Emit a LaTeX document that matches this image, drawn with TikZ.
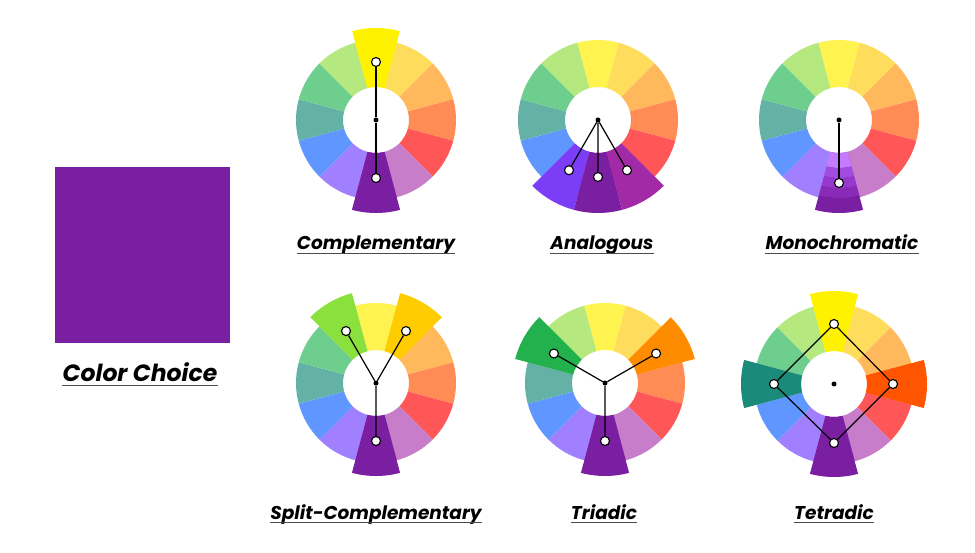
\documentclass[tikz,border=0pt]{standalone}
\usepackage{fontspec}
\setmainfont{Poppins}

\definecolor{wYellow}{HTML}{FFF350}
\definecolor{wAmber}{HTML}{FFDD5C}
\definecolor{wApricot}{HTML}{FFB85C}
\definecolor{wCoral}{HTML}{FF8C55}
\definecolor{wRed}{HTML}{FF5757}
\definecolor{wOrchid}{HTML}{C77DC9}
\definecolor{wPurple}{HTML}{7B1FA2}
\definecolor{wLavender}{HTML}{A180FF}
\definecolor{wBlue}{HTML}{5F96FF}
\definecolor{wTeal}{HTML}{64B2A6}
\definecolor{wGreen}{HTML}{6ECE8E}
\definecolor{wLime}{HTML}{B5E87E}
\definecolor{hYellow}{HTML}{FFF200}
\definecolor{hViolet}{HTML}{7C3DF6}
\definecolor{hMagenta}{HTML}{A22AA6}
\definecolor{hChartreuse}{HTML}{8AE03C}
\definecolor{hGold}{HTML}{FFCC00}
\definecolor{hGreen}{HTML}{22B14C}
\definecolor{hOrange}{HTML}{FF8C00}
\definecolor{hVermilion}{HTML}{FF5500}
\definecolor{hTeal}{HTML}{1A8A7A}
\definecolor{mOne}{HTML}{C57BFF}
\definecolor{mTwo}{HTML}{A24BE0}
\definecolor{mThree}{HTML}{9638CC}
\definecolor{mFour}{HTML}{8A2BB8}

% colour, angle, inner radius, outer radius
\newcommand\colsector[4]{%
	\fill[#1] (#2-15:#3) arc[start angle=#2-15, end angle=#2+15, radius=#3]
		-- (#2+15:#4) arc[start angle=#2+15, end angle=#2-15, radius=#4] -- cycle;}

\begin{document}
\begin{tikzpicture}[
	x = 1pt, y = 1pt,
	colwheel/.pic = {
		\foreach \ang/\col in {90/wYellow, 60/wAmber, 30/wApricot, 0/wCoral,
			-30/wRed, -60/wOrchid, -90/wPurple, -120/wLavender,
			-150/wBlue, 180/wTeal, 150/wGreen, 120/wLime}
			{\colsector{\col}{\ang}{33pt}{80pt}}
	},
	hub/.style = {circle, fill=black, inner sep=0pt, minimum size=5pt},
	knob/.style = {circle, draw=black, fill=white, line width=1.1pt,
		inner sep=0pt, minimum size=9pt},
	spoke/.style = {line width=1.2pt},
	title/.style = {font=\fontsize{18.5}{22}\selectfont\bfseries\itshape,
		inner sep=0pt, anchor=base},
	uline/.style = {line width=1.5pt, black!70}]

	\useasboundingbox (0,0) rectangle (975,552);

	% colour choice
	\node[fill=wPurple, minimum width=175pt, minimum height=176pt, inner sep=0pt]
		(choice) at (142.5,297) {};
	\node[title, font=\fontsize{23.5}{28}\selectfont\bfseries\itshape] (choice-lbl) at (140,170) {Color Choice};

	% complementary
	\begin{scope}[shift={(376,432)}]
		\pic {colwheel};
		\colsector{hYellow}{90}{33pt}{92pt}
		\colsector{wPurple}{-90}{33pt}{93pt}
		\node[hub] (comp) at (0,0) {};
		\node[knob] (comp-a) at (90:58pt) {};
		\node[knob] (comp-b) at (-90:58pt) {};
	\end{scope}
	\draw[spoke] (comp) -- (comp-a) (comp) -- (comp-b);
	\node[title] (comp-lbl) at (376,302) {Complementary};

	% analogous
	\begin{scope}[shift={(598,432)}]
		\pic {colwheel};
		\colsector{hViolet}{-120}{33pt}{93pt}
		\colsector{wPurple}{-90}{33pt}{93pt}
		\colsector{hMagenta}{-60}{33pt}{93pt}
		\node[hub] (anal) at (0,0) {};
		\node[knob] (anal-a) at (-120:58pt) {};
		\node[knob] (anal-b) at (-90:57pt) {};
		\node[knob] (anal-c) at (-60:58pt) {};
	\end{scope}
	\draw[spoke] (anal) -- (anal-a) (anal) -- (anal-b) (anal) -- (anal-c);
	\node[title] (anal-lbl) at (602,302) {Analogous};

	% monochromatic
	\begin{scope}[shift={(839,432)}]
		\pic {colwheel};
		\colsector{mOne}{-90}{33pt}{48pt}
		\colsector{mTwo}{-90}{48pt}{58pt}
		\colsector{mThree}{-90}{58pt}{68pt}
		\colsector{mFour}{-90}{68pt}{78pt}
		\colsector{wPurple}{-90}{78pt}{93pt}
		\node[hub] (mono) at (0,0) {};
		\node[knob] (mono-a) at (-90:63pt) {};
	\end{scope}
	\draw[spoke] (mono) -- (mono-a);
	\node[title] (mono-lbl) at (842,302) {Monochromatic};

	% split-complementary
	\begin{scope}[shift={(376,169)}]
		\pic {colwheel};
		\colsector{hChartreuse}{120}{33pt}{93pt}
		\colsector{hGold}{60}{33pt}{93pt}
		\colsector{wPurple}{-90}{33pt}{93pt}
		\node[hub] (split) at (0,0) {};
		\node[knob] (split-a) at (120:60pt) {};
		\node[knob] (split-b) at (60:60pt) {};
		\node[knob] (split-c) at (-90:58pt) {};
	\end{scope}
	\draw[spoke] (split) -- (split-a) (split) -- (split-b) (split) -- (split-c);
	\node[title] (split-lbl) at (376,33) {Split-Complementary};

	% triadic
	\begin{scope}[shift={(605,169)}]
		\pic {colwheel};
		\colsector{hGreen}{150}{33pt}{93pt}
		\colsector{hOrange}{30}{33pt}{93pt}
		\colsector{wPurple}{-90}{33pt}{93pt}
		\node[hub] (tri) at (0,0) {};
		\node[knob] (tri-a) at (150:59pt) {};
		\node[knob] (tri-b) at (30:59pt) {};
		\node[knob] (tri-c) at (-90:58pt) {};
	\end{scope}
	\draw[spoke] (tri) -- (tri-a) (tri) -- (tri-b) (tri) -- (tri-c);
	\node[title] (tri-lbl) at (604,33) {Triadic};

	% tetradic
	\begin{scope}[shift={(834,168)}]
		\pic {colwheel};
		\colsector{hYellow}{90}{33pt}{93pt}
		\colsector{hVermilion}{0}{33pt}{93pt}
		\colsector{hTeal}{180}{33pt}{93pt}
		\colsector{wPurple}{-90}{33pt}{93pt}
		\node[hub] (tet) at (0,0) {};
		\node[knob] (tet-n) at (90:60pt) {};
		\node[knob] (tet-e) at (0:59pt) {};
		\node[knob] (tet-s) at (-90:59pt) {};
		\node[knob] (tet-w) at (180:60pt) {};
	\end{scope}
	\draw[spoke] (tet-n) -- (tet-e) -- (tet-s) -- (tet-w) -- (tet-n);
	\node[title] (tet-lbl) at (834,33) {Tetradic};

	% underlines
	\foreach \lbl in {choice-lbl, comp-lbl, anal-lbl, mono-lbl, split-lbl, tri-lbl, tet-lbl}
		\draw[uline] ([yshift=-3.5pt]\lbl.base west) -- ([yshift=-3.5pt]\lbl.base east);
\end{tikzpicture}
\end{document}
